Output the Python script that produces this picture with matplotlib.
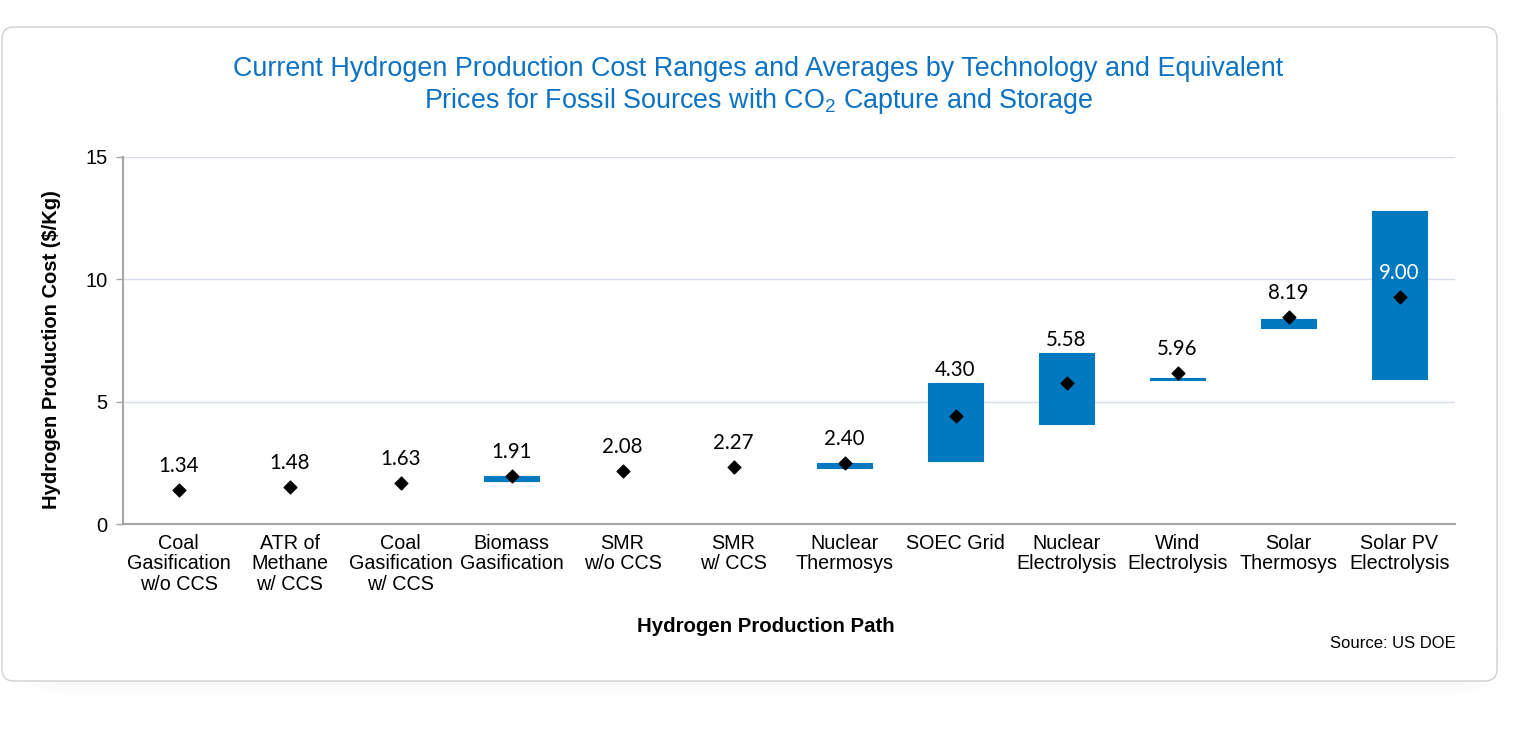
import numpy as np
import matplotlib
matplotlib.use("Agg")
import matplotlib.pyplot as plt
from matplotlib.patches import FancyBboxPatch

plt.rcParams.update({
    "font.family": ["Liberation Sans", "DejaVu Sans"],
    "mathtext.fontset": "custom",
    "mathtext.rm": "Liberation Sans",
    "mathtext.it": "Liberation Sans",
})

# data
categories = ["Coal\nGasification\nw/o CCS", "ATR of\nMethane\nw/ CCS", "Coal\nGasification\nw/ CCS",
              "Biomass\nGasification", "SMR\nw/o CCS", "SMR\nw/ CCS", "Nuclear\nThermosys",
              "SOEC Grid", "Nuclear\nElectrolysis", "Wind\nElectrolysis", "Solar\nThermosys",
              "Solar PV\nElectrolysis"]
range_low = [np.nan, np.nan, np.nan, 1.77, np.nan, np.nan, 2.29, 2.59, 4.07, 5.89, 8.00, 5.94]
range_high = [np.nan, np.nan, np.nan, 1.96, np.nan, np.nan, 2.48, 5.77, 6.98, 5.97, 8.36, 12.79]
avg_marker = [1.39, 1.50, 1.66, 1.96, 2.15, 2.34, 2.48, 4.43, 5.77, 6.16, 8.47, 9.29]
avg_label = ["1.34", "1.48", "1.63", "1.91", "2.08", "2.27", "2.40", "4.30", "5.58", "5.96", "8.19", "9.00"]
y_ticks = [0, 5, 10, 15]

BLUE = "#0079C1"
TITLE_BLUE = "#0B72C4"
LABEL_FONT = ["Lato", "DejaVu Sans"]

W, H = 1536, 742
fig = plt.figure(figsize=(W / 100, H / 100), dpi=100)
fig.patch.set_facecolor("white")

# card background with soft shadow
bg = fig.add_axes([0, 0, 1, 1], zorder=-5)
bg.set_xlim(0, W)
bg.set_ylim(H, 0)
bg.axis("off")
n = 30
for k in range(n):
    s = k * 1.5
    bg.add_patch(FancyBboxPatch((50 - s * 0.8, 60), 1470 - 50 + s * 1.6, 625 - 60 + s * 1.7,
                                boxstyle="round,pad=0,rounding_size=%d" % (20 + s), fc="black",
                                ec="none", alpha=0.0036))
bg.add_patch(FancyBboxPatch((2, 27), 1495, 654, boxstyle="round,pad=0,rounding_size=12",
                            fc="white", ec="#D0D0D0", lw=1.0))

ax = fig.add_axes([123 / W, 1 - 524 / H, (1455 - 123) / W, (524 - 157) / H])
ax.set_facecolor("none")
x = np.arange(len(categories))
low = np.array(range_low)
high = np.array(range_high)
ax.bar(x, high - low, bottom=low, width=0.49, color=BLUE, edgecolor=BLUE, lw=0.8, zorder=3)
ax.scatter(x, avg_marker, marker="D", s=42, color="black", zorder=4)

for i, lab in enumerate(avg_label):
    m = avg_marker[i]
    h = high[i]
    if not np.isnan(h) and h - m > 2:
        ax.annotate(lab, (x[i], m), xytext=(0, 24), textcoords="offset pixels", ha="center",
                    va="center", fontsize=14.8, color="white", family=LABEL_FONT, zorder=5)
    elif not np.isnan(h) and h > m:
        ax.annotate(lab, (x[i], h), xytext=(0, 13), textcoords="offset pixels", ha="center",
                    va="center", fontsize=14.8, color="black", family=LABEL_FONT, zorder=5)
    else:
        ax.annotate(lab, (x[i], m), xytext=(0, 24), textcoords="offset pixels", ha="center",
                    va="center", fontsize=14.8, color="black", family=LABEL_FONT, zorder=5)

ax.set_xlim(-0.5, len(categories) - 0.5)
ax.set_ylim(0, 15)
ax.set_yticks(y_ticks)
ax.set_xticks(x)
ax.set_xticklabels(categories, fontsize=14.2, linespacing=1.1)
ax.tick_params(axis="x", length=0, pad=7)
ax.tick_params(axis="y", length=5, width=1, color="#A6A6A6", labelsize=14.5, pad=6)
ax.grid(axis="y", color="#D6DEEA", lw=1, zorder=0)
for s in ["top", "right"]:
    ax.spines[s].set_visible(False)
for s in ["left", "bottom"]:
    ax.spines[s].set_color("#A6A6A6")
    ax.spines[s].set_linewidth(1.5)

fig.text(758.5 / W, 1 - 69 / H, "Current Hydrogen Production Cost Ranges and Averages by Technology and Equivalent",
         ha="center", va="center", fontsize=19.4, color=TITLE_BLUE)
fig.text(758.5 / W, 1 - 101 / H, r"Prices for Fossil Sources with CO$_\mathrm{2}$ Capture and Storage",
         ha="center", va="center", fontsize=19.4, color=TITLE_BLUE)
fig.text(52 / W, 1 - 350 / H, "Hydrogen Production Cost ($/Kg)", rotation=90, ha="center", va="center",
         fontsize=14.5, fontweight="bold")
fig.text(766 / W, 1 - 627 / H, "Hydrogen Production Path", ha="center", va="center",
         fontsize=14.7, fontweight="bold")
fig.text(1456 / W, 1 - 644 / H, "Source: US DOE", ha="right", va="center", fontsize=12)

fig.savefig("out.png", dpi=100)
